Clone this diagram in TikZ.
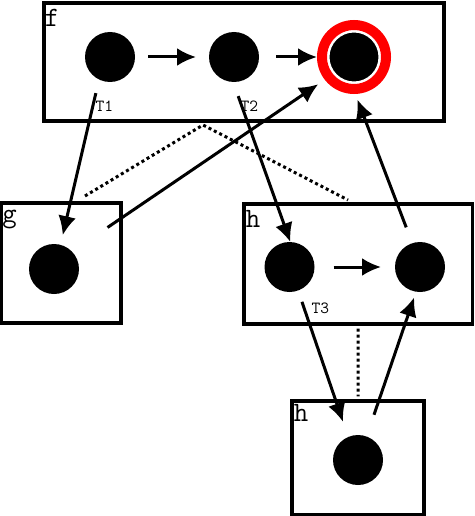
\documentclass[tikz,border=0pt]{standalone}
\usetikzlibrary{arrows.meta}
\begin{document}
\begin{tikzpicture}[x=1pt, y=-1pt, >={Latex[length=19pt,width=18pt]}, line width=3pt,
    frame/.style={draw, rectangle, line width=3.2pt, inner sep=0pt},
    dot/.style={circle, fill=black, minimum size=50pt, inner sep=0pt, outer sep=0pt},
    boxlabel/.style={anchor=base west, inner sep=0pt, font=\ttfamily\fontsize{28}{30}\selectfont},
    tlabel/.style={anchor=base west, inner sep=0pt, font=\ttfamily\fontsize{17}{19}\selectfont},
    dots/.style={dash pattern=on 3pt off 3pt}]
        \useasboundingbox (0,0) rectangle (474,516);

        % Frames
        \node[frame, minimum width=400pt, minimum height=118pt] (fbox) at (244,62) {};
        \node[frame, minimum width=119.5pt, minimum height=120pt] (gbox) at (61.25,263) {};
        \node[frame, minimum width=228.5pt, minimum height=120pt] (hbox) at (358.25,264) {};
        \node[frame, minimum width=132pt, minimum height=113.5pt] (hhbox) at (358,457.75) {};

        \node[boxlabel] at ([shift={(1,25)}]fbox.north west) {f};
        \node[boxlabel] at ([shift={(1,21)}]gbox.north west) {g};
        \node[boxlabel] at ([shift={(2,25)}]hbox.north west) {h};
        \node[boxlabel] at ([shift={(2,22)}]hhbox.north west) {h};

        % Nodes inside f
        \node[dot] (fa) at (110,57) {};
        \node[dot] (fb) at (234,57) {};
        \node[circle, draw=white, fill=black, line width=3pt, minimum size=52pt, inner sep=0pt] (fc) at (354,57) {};
        \node[circle, draw=red, line width=10pt, minimum size=64pt, inner sep=0pt, outer sep=5pt] (ring) at (354,57) {};

        % Nodes inside g and h
        \node[dot] (ga) at (54,269) {};
        \node[dot] (ha) at (289.5,267) {};
        \node[dot] (hb) at (420,267) {};
        \node[dot] (hc) at (358,460) {};

        \node[tlabel] at (94,111) {T1};
        \node[tlabel] at (239,111) {T2};
        \node[tlabel] at (310,313) {T3};

        % Arrows
        \draw[->, shorten <=13pt, shorten >=13pt] (fa.east) -- (fb.west);
        \draw[->, shorten <=17pt] (fb.east) -- (ring.west);
        \draw[->, shorten <=19pt, shorten >=14pt] (ha.east) -- (hb.west);
        \draw[->, shorten <=14pt, shorten >=10pt] (fa.244) -- (ga.75);
        \draw[->, shorten <=43pt, shorten >=8pt] (ga.44) -- (ring.218);
        \draw[->, shorten <=15pt] (fb.268) -- (ha.88);
        \draw[->, shorten <=17pt, shorten >=6pt] (hb.108) -- (ring.272);
        \draw[->, shorten <=12pt, shorten >=16pt] (ha.290) -- (hc.113);
        \draw[->, shorten <=23pt, shorten >=6pt] (hc.70) -- (hb.261);

        % Dotted links
        \coordinate (dl) at (85,196);
        \coordinate (dm) at (203,125);
        \coordinate (dr) at (348,200);
        \draw[dots] (dl) -- (dm) -- (dr);
        \draw[dots, shorten <=3pt, shorten >=3pt] (hbox.south) -- (hhbox.north);
\end{tikzpicture}
\end{document}
